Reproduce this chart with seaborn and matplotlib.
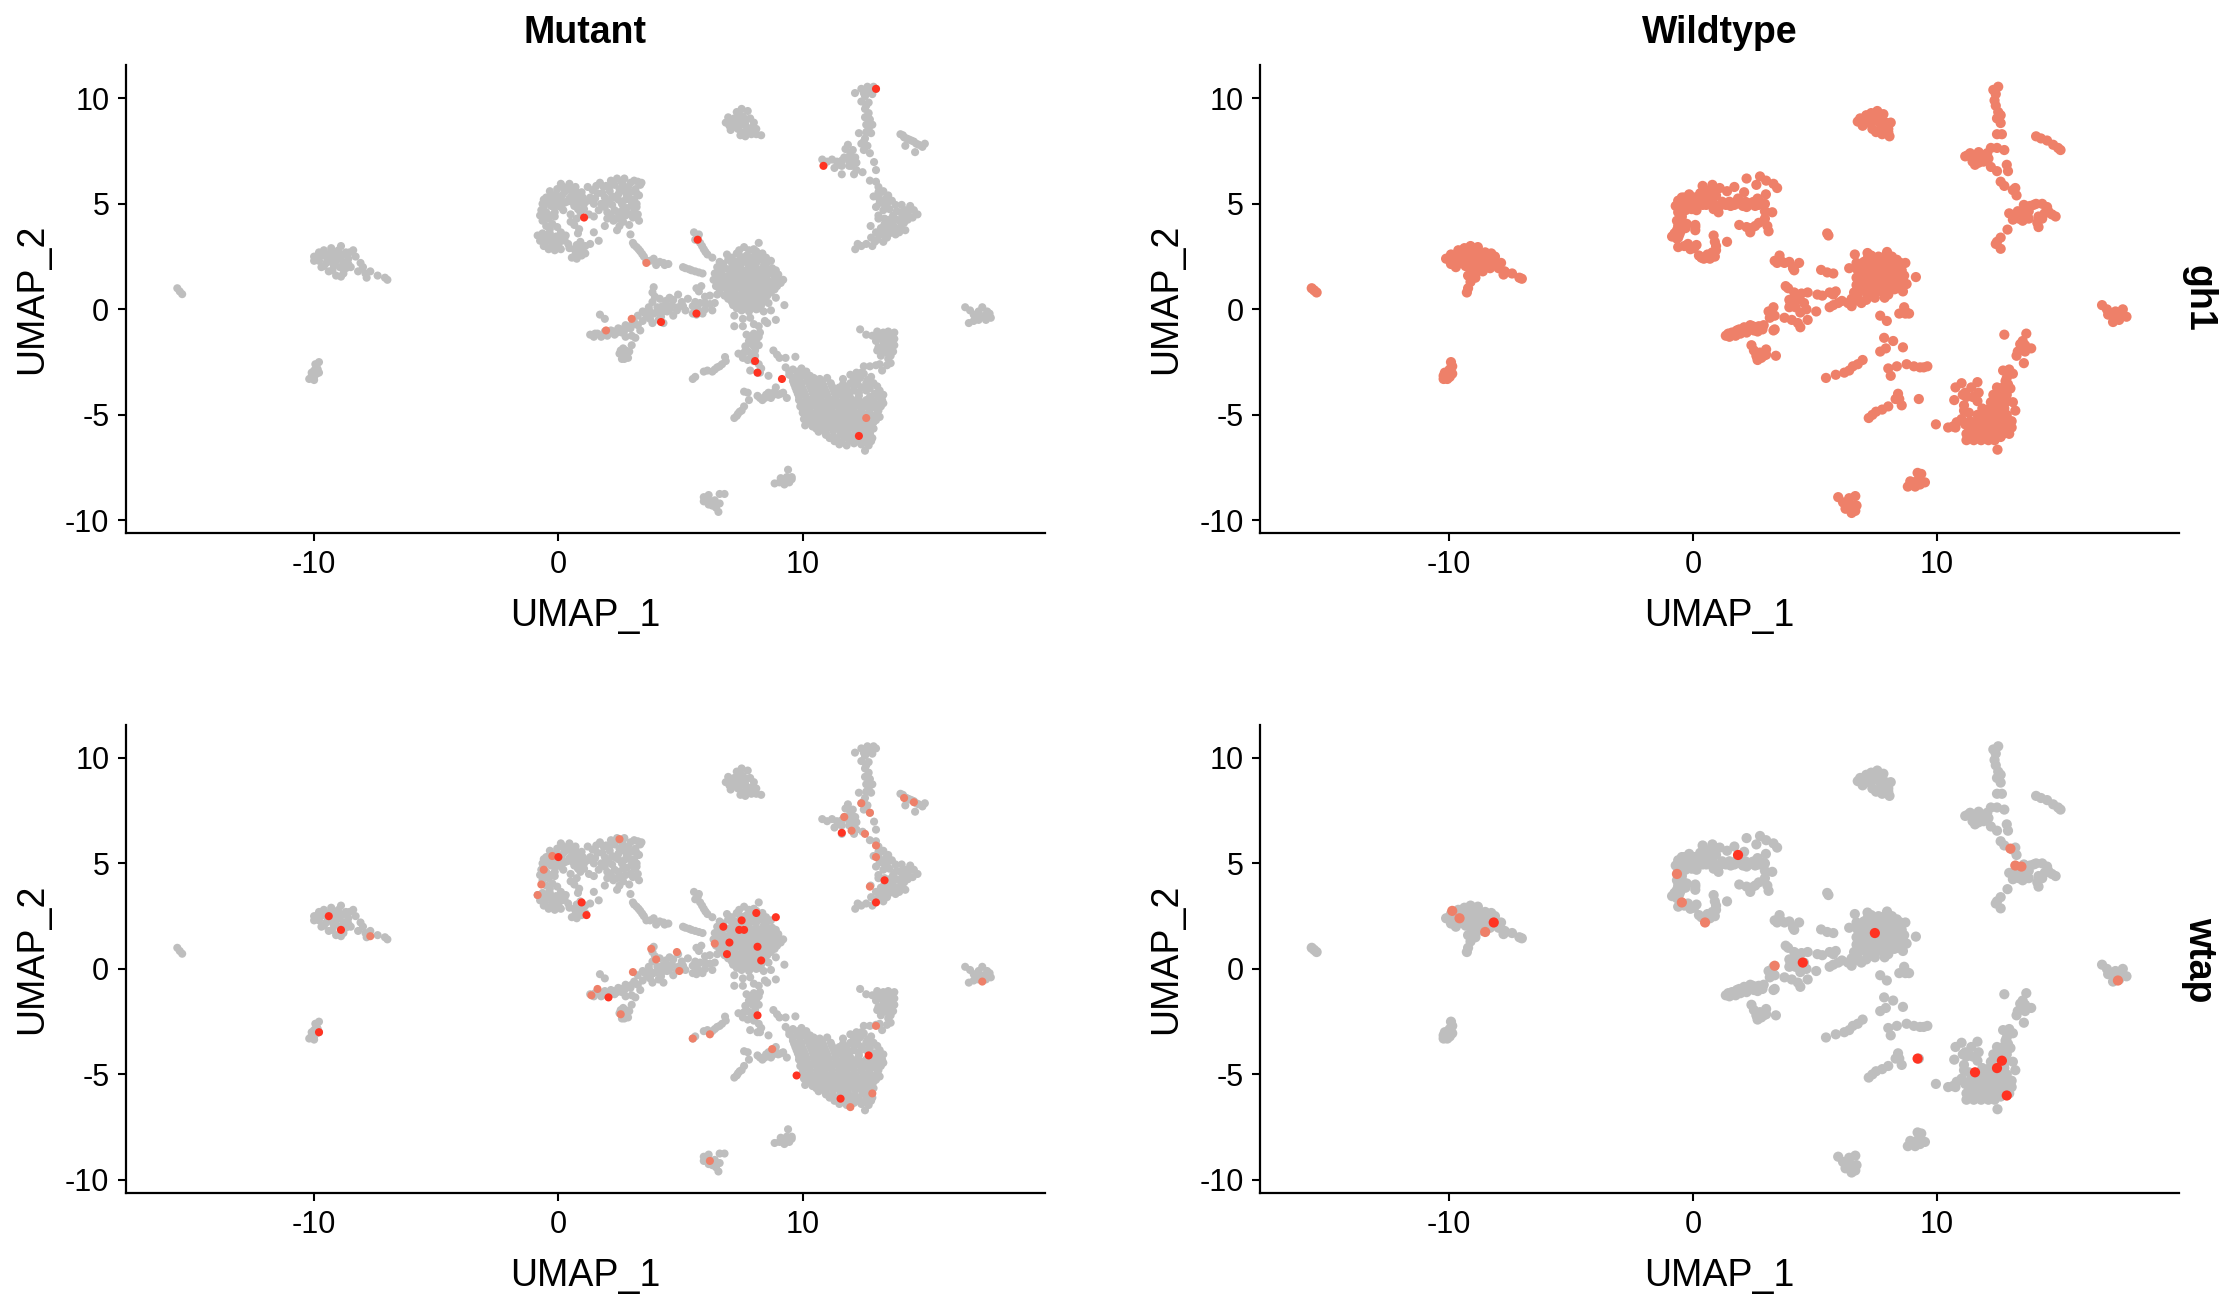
import pandas as pd
import seaborn as sns
import matplotlib.pyplot as plt

# cells, cluster by cluster (UMAP_1, UMAP_2)
mut_far = [(-15.6, 1.0), (-15.5, 0.85), (-15.4, 0.72)]
mut_left = [(-10.0, 2.5), (-10.0, 2.3), (-9.8, 2.7), (-9.8, 2.3), (-9.7, 2.0), (-9.6, 2.8), (-9.5, 2.5), (-9.5, 2.2),
            (-9.4, 1.8), (-9.3, 2.9), (-9.2, 2.5), (-9.2, 2.1), (-9.1, 1.6), (-9.0, 2.8), (-9.0, 2.4), (-8.9, 3.0),
            (-8.8, 2.2), (-8.8, 1.7), (-8.7, 2.7), (-8.6, 2.4), (-8.5, 2.0), (-8.4, 2.8), (-8.3, 2.5), (-8.2, 1.8),
            (-8.1, 2.2), (-7.9, 1.7), (-7.7, 1.8), (-7.4, 1.6), (-7.1, 1.5), (-7.0, 1.4), (-8.9, 1.55),
            (-9.9, 2.5), (-9.65, 2.55), (-9.35, 2.65), (-9.35, 2.3), (-9.1, 2.3), (-9.1, 2.65), (-8.85, 2.55), (-8.6, 2.15), (-8.55, 2.7),
            (-9.25, 1.85), (-8.7, 1.95), (-8.0, 2.0), (-7.85, 1.5), (-8.95, 2.0), (-9.6, 2.05)]
mut_low_left = [(-10.2, -3.3), (-10.1, -3.0), (-10.0, -3.2), (-10.0, -2.9), (-9.9, -2.7), (-9.8, -2.5), (-9.8, -3.0),
                (-10.1, -3.15), (-9.9, -3.05), (-9.85, -2.85), (-10.0, -3.35), (-9.95, -2.6)]
mut_ring = [(-0.85, 3.5), (-0.75, 3.25), (-0.65, 3.6), (-0.6, 3.0), (-0.5, 3.35), (-0.4, 2.85), (-0.35, 3.6),
            (-0.25, 3.15), (-0.15, 2.8), (-0.1, 3.45), (0.0, 3.0), (0.1, 3.65), (0.15, 3.25), (0.3, 3.5), (0.4, 3.1),
            (0.45, 2.9), (-0.65, 4.2), (-0.5, 3.95), (-0.4, 4.3), (-0.25, 4.05), (-0.15, 4.4), (-0.05, 3.9),
            (-0.7, 4.7), (-0.65, 5.0), (-0.5, 5.3), (-0.5, 4.6), (-0.35, 5.6), (-0.3, 4.9), (-0.2, 5.25), (-0.15, 4.6),
            (-0.05, 5.7), (0.0, 5.0), (0.1, 5.95), (0.15, 5.4), (0.2, 4.7), (0.35, 5.1), (0.35, 5.7), (0.45, 5.95),
            (0.5, 4.5), (0.55, 5.4), (0.65, 4.9), (0.7, 5.8), (0.8, 5.25), (0.9, 4.6), (0.95, 5.55), (1.05, 5.0),
            (1.2, 5.8), (1.25, 4.5), (1.3, 5.3), (1.45, 5.0), (1.45, 4.4), (0.5, 4.15), (0.65, 4.0), (0.85, 3.8),
            (0.75, 4.3), (0.8, 3.6), (0.55, 2.45), (0.75, 2.4), (0.95, 2.55), (1.1, 2.65), (0.9, 2.85), (0.75, 3.05),
            (0.9, 3.2), (1.1, 3.0), (1.3, 3.1), (1.65, 3.25), (1.65, 4.7), (1.75, 5.0), (1.8, 5.5), (1.7, 6.0),
            (2.0, 4.6), (2.05, 5.1), (2.1, 5.6), (2.15, 6.1), (2.25, 4.2), (2.3, 4.7), (2.3, 5.3), (2.4, 6.2),
            (2.5, 5.7), (2.5, 3.95), (2.55, 4.4), (2.6, 5.0), (2.7, 6.2), (2.8, 4.8), (2.8, 5.4), (2.85, 5.8),
            (2.9, 4.0), (2.95, 4.5), (3.1, 6.1), (3.1, 5.2), (3.15, 5.7), (3.25, 4.5), (3.3, 4.2), (3.3, 5.4),
            (3.35, 5.9), (3.4, 6.0), (1.45, 3.65), (1.9, 3.95), (2.4, 3.75), (2.95, 3.55)]
mut_ring_fill = [(-0.7, 3.4), (-0.55, 3.15), (-0.45, 3.55), (-0.2, 3.35), (-0.3, 2.95), (-0.05, 3.2), (0.1, 2.85), (0.25, 3.3),
                 (-0.55, 4.4), (-0.6, 4.85), (-0.35, 4.45), (-0.4, 5.1), (-0.35, 5.35), (-0.15, 4.85), (-0.1, 5.1), (-0.1, 5.45),
                 (0.1, 4.85), (0.1, 5.2), (0.25, 5.55), (0.2, 5.8), (0.45, 5.25), (0.5, 5.65), (0.55, 5.1), (0.75, 5.55),
                 (0.85, 5.05), (0.8, 4.75), (1.0, 5.3), (1.05, 4.75), (1.2, 5.15), (1.4, 5.65), (1.5, 5.25), (1.9, 5.3),
                 (1.9, 4.85), (1.95, 5.85), (2.2, 4.95), (2.3, 5.9), (2.45, 5.2), (2.45, 4.6), (2.6, 6.0), (2.7, 5.6),
                 (2.65, 4.15), (2.95, 5.55), (3.0, 4.95), (3.2, 4.85), (3.25, 6.05), (-0.75, 4.45), (-0.6, 5.2), (0.7, 2.6),
                 (0.65, 2.85), (1.0, 2.95), (2.0, 4.3), (-0.35, 3.8), (0.05, 3.45), (0.25, 5.05),
                 (2.15, 4.45), (2.2, 5.35), (2.45, 5.45), (2.65, 4.75), (2.75, 5.2), (2.95, 5.2), (3.1, 4.75), (3.05, 4.35), (2.75, 4.45),
                 (2.65, 5.85), (2.95, 6.0), (1.85, 5.8), (2.1, 5.85), (2.4, 4.3), (3.2, 5.5), (3.2, 5.0), (1.6, 5.5), (1.55, 5.85), (1.95, 5.05)]
mut_chain = [(3.05, 3.15), (3.2, 2.95), (3.35, 2.75), (3.5, 2.5), (3.6, 2.3), (3.75, 2.3), (3.9, 2.4), (4.0, 2.1),
             (4.15, 2.25), (4.35, 2.1), (4.5, 2.15), (4.3, 2.2), (5.1, 2.0), (5.35, 1.9), (5.6, 1.8), (5.9, 1.7),
             (5.2, 1.95), (5.45, 1.85), (5.75, 1.75), (3.1, 3.05), (3.28, 2.85), (3.43, 2.62),
             (5.55, 3.65), (5.7, 3.4), (5.6, 3.3), (5.75, 3.55), (5.8, 3.15), (5.95, 2.85), (6.1, 2.6), (6.3, 2.45),
             (5.88, 3.0), (6.02, 2.72)]
mut_blob = [(7.6, 2.95), (8.0, 2.85), (8.2, 3.15), (6.9, 2.6), (7.3, 2.65), (7.7, 2.55), (8.05, 2.6), (8.35, 2.65),
            (6.6, 2.25), (6.95, 2.35), (7.3, 2.25), (7.6, 2.3), (7.95, 2.25), (8.3, 2.35), (8.7, 2.3),
            (6.5, 2.0), (6.8, 1.95), (7.15, 2.05), (7.45, 1.95), (7.8, 2.0), (8.1, 1.95), (8.4, 2.05), (8.75, 1.95),
            (6.4, 1.7), (6.7, 1.65), (7.05, 1.75), (7.35, 1.65), (7.7, 1.7), (8.05, 1.65), (8.35, 1.75), (8.7, 1.7), (9.0, 1.65),
            (6.35, 1.4), (6.65, 1.35), (7.0, 1.45), (7.3, 1.35), (7.65, 1.4), (7.95, 1.35), (8.3, 1.45), (8.6, 1.35), (8.95, 1.4), (9.2, 1.4),
            (6.45, 1.1), (6.75, 1.05), (7.1, 1.15), (7.4, 1.05), (7.7, 1.1), (8.0, 1.05), (8.35, 1.15), (8.65, 1.05), (8.95, 1.1),
            (6.6, 0.8), (6.9, 0.75), (7.2, 0.85), (7.5, 0.75), (7.8, 0.8), (8.1, 0.75), (8.4, 0.85), (8.7, 0.8),
            (6.95, 0.5), (7.25, 0.45), (7.55, 0.55), (7.85, 0.45), (8.15, 0.5), (8.45, 0.45), (8.9, 0.55),
            (7.15, 0.2), (7.45, 0.15), (7.75, 0.25), (8.05, 0.15), (8.3, 0.2), (7.5, -0.05), (7.8, -0.1), (8.1, -0.0),
            (8.4, -0.1), (8.7, -0.05), (9.25, 0.2)]
mut_blob_fill = [(7.4, 2.8), (7.8, 2.8), (8.1, 2.75), (7.1, 2.45), (7.45, 2.5), (7.85, 2.45), (8.15, 2.45), (8.5, 2.45),
                 (6.75, 2.15), (7.1, 2.2), (7.45, 2.15), (7.75, 2.15), (8.1, 2.2), (8.5, 2.15), (6.6, 1.85), (6.95, 1.9),
                 (7.25, 1.85), (7.55, 1.85), (7.9, 1.85), (8.2, 1.85), (8.55, 1.85), (8.9, 1.85), (6.5, 1.55), (6.85, 1.55),
                 (7.2, 1.55), (7.5, 1.55), (7.85, 1.55), (8.2, 1.55), (8.5, 1.55), (8.85, 1.55), (6.55, 1.25), (6.85, 1.25),
                 (7.15, 1.3), (7.5, 1.25), (7.8, 1.25), (8.15, 1.25), (8.45, 1.25), (8.8, 1.25), (9.1, 1.25), (6.6, 0.95),
                 (6.95, 0.95), (7.25, 1.0), (7.55, 0.95), (7.85, 0.95), (8.2, 0.95), (8.5, 0.95), (8.85, 0.95), (6.8, 0.65),
                 (7.05, 0.65), (7.35, 0.65), (7.65, 0.65), (7.95, 0.65), (8.25, 0.65), (8.55, 0.65), (7.1, 0.35), (7.4, 0.35),
                 (7.7, 0.35), (8.0, 0.35), (8.3, 0.35), (8.6, 0.3), (7.3, 0.05), (7.6, 0.05), (7.9, 0.05), (8.2, 0.05)]
mut_wing = [(1.3, -1.2), (1.45, -1.3), (1.6, -1.15), (1.75, -1.3), (1.9, -1.05), (2.0, -1.25), (2.15, -1.0), (2.3, -1.2),
            (2.45, -0.9), (2.6, -1.1), (2.75, -0.75), (2.95, -0.9), (3.1, -0.6), (3.25, -0.75), (1.7, -0.25), (1.9, -0.45),
            (3.0, -1.25), (2.75, -1.3), (3.15, -1.35), (3.35, -1.0), (2.65, -1.85), (2.5, -2.1), (2.7, -2.2), (2.9, -2.0),
            (2.6, -2.35), (2.85, -2.3), (3.0, -1.7), (3.25, -0.3), (3.45, -0.1), (3.45, -0.55), (3.65, -0.35), (3.7, 0.1),
            (3.85, 0.35), (3.9, -0.2), (3.85, -0.65), (4.05, 0.1), (4.15, 0.5), (4.2, -0.35), (4.3, -0.65), (4.4, 0.15),
            (4.45, -0.1), (4.55, 0.55), (4.65, 0.2), (4.7, -0.3), (4.9, 0.1), (4.9, 0.7), (5.05, 0.35), (5.2, -0.05),
            (5.3, 0.5), (3.9, 1.05), (3.85, 0.8), (5.5, 0.15), (5.7, 0.0), (5.5, -0.2), (5.65, -0.25), (5.9, -0.2),
            (5.6, 0.35), (5.8, 0.3), (6.0, 0.3), (6.2, 0.25), (6.4, 0.3), (6.0, 0.0), (6.3, -0.05), (5.65, 1.0),
            (5.85, 1.1), (5.75, 0.85), (6.2, 0.65), (6.0, 0.6), (6.5, 0.7),
            (1.5, -1.15), (1.85, -1.2), (2.25, -1.05), (2.55, -0.95), (2.85, -0.85), (3.0, -0.75), (2.7, -1.0), (2.4, -1.1),
            (3.55, -0.2), (3.75, -0.1), (3.75, -0.45), (4.05, -0.15), (4.1, -0.5), (4.25, 0.15), (4.3, -0.1), (4.55, 0.0),
            (3.95, 0.6), (4.4, 0.4), (4.7, 0.45), (4.85, -0.05), (5.1, 0.15), (2.55, -1.95), (2.75, -1.95), (2.7, -2.35)]
mut_stem = [(7.2, -0.3), (7.2, -0.8), (7.55, -0.45), (7.55, -0.8), (7.85, -0.4), (8.0, -0.7), (8.2, -0.8), (8.45, -0.55),
            (8.9, -0.5), (8.55, -0.65), (7.7, -1.2), (8.0, -1.15), (8.25, -1.1), (7.8, -1.5), (8.1, -1.45), (7.65, -1.75),
            (8.2, -1.7), (7.75, -2.0), (8.05, -1.95), (8.2, -1.3), (7.37, -2.1), (7.55, -2.3), (7.75, -2.4), (8.0, -2.45),
            (8.2, -2.6), (8.15, -3.0), (7.85, -2.9), (8.3, -2.8), (8.25, -3.0), (8.6, -3.15), (5.5, -3.3), (5.6, -3.2),
            (5.95, -2.95), (6.3, -2.95), (6.5, -2.75), (6.7, -2.6), (6.85, -2.45), (6.82, -2.26), (6.1, -2.9),
            (7.2, -5.15), (7.35, -4.95), (7.5, -4.8), (7.6, -4.6), (7.8, -4.3), (7.75, -3.95), (7.6, -3.9),
            (8.15, -4.1), (8.35, -4.3), (8.5, -4.05), (8.7, -4.2), (8.85, -3.9), (9.0, -4.05), (9.2, -3.95), (8.9, -3.7),
            (8.6, -3.95), (9.35, -4.2), (7.9, -1.3), (7.95, -1.7), (7.9, -2.15), (8.05, -2.2), (7.6, -2.05), (6.4, -2.85),
            (6.6, -2.7), (7.3, -5.05), (7.42, -4.85), (8.25, -4.2), (8.45, -4.2), (8.8, -4.05), (9.1, -4.0)]
mut_lower = [(8.8, -1.95), (8.95, -2.15), (9.05, -2.3), (9.3, -2.3), (9.7, -2.25), (9.3, -2.75), (9.6, -2.85), (9.95, -2.8),
             (9.45, -3.1), (9.75, -3.15), (10.05, -3.05), (10.3, -3.15), (9.6, -3.4), (9.9, -3.45), (10.2, -3.35), (10.5, -3.4),
             (10.8, -3.45), (11.0, -3.25), (11.65, -3.3), (11.95, -3.1), (12.2, -3.0), (12.5, -3.05), (12.8, -3.2),
             (9.7, -3.7), (10.0, -3.75), (10.3, -3.65), (10.6, -3.7), (10.9, -3.75), (11.2, -3.65), (11.5, -3.7), (11.8, -3.75),
             (12.1, -3.65), (12.4, -3.7), (12.75, -3.75), (13.05, -3.65), (9.8, -4.0), (10.1, -4.05), (10.4, -3.95), (10.7, -4.0),
             (11.0, -4.05), (11.3, -3.95), (11.6, -4.0), (11.9, -4.05), (12.3, -3.95), (12.95, -4.0), (13.3, -4.05),
             (9.85, -4.3), (10.15, -4.35), (10.45, -4.25), (10.75, -4.3), (11.05, -4.35), (11.35, -4.25), (11.7, -4.3), (12.0, -4.35),
             (12.25, -4.25), (12.6, -4.3), (12.9, -4.35), (13.25, -4.3), (9.9, -4.6), (10.2, -4.65), (10.5, -4.55), (10.8, -4.6),
             (11.1, -4.65), (11.4, -4.55), (11.7, -4.6), (12.0, -4.65), (12.3, -4.55), (12.6, -4.6), (12.9, -4.65), (13.2, -4.6),
             (10.0, -4.9), (10.3, -4.95), (10.6, -4.85), (10.9, -4.9), (11.2, -4.95), (11.5, -4.85), (11.8, -4.9), (12.1, -4.95),
             (12.4, -4.85), (12.7, -4.9), (13.05, -4.95), (10.05, -5.2), (10.35, -5.25), (10.65, -5.15), (10.95, -5.2), (11.25, -5.25),
             (11.55, -5.15), (11.85, -5.2), (12.15, -5.25), (12.45, -5.15), (12.75, -5.2), (13.0, -5.25), (10.1, -5.5), (10.4, -5.55),
             (10.7, -5.45), (11.0, -5.5), (11.3, -5.55), (11.6, -5.45), (11.9, -5.5), (12.2, -5.55), (12.5, -5.45), (12.8, -5.5),
             (10.65, -5.8), (10.95, -5.85), (11.25, -5.75), (11.55, -5.8), (11.85, -5.85), (12.15, -5.75), (12.45, -5.8), (12.75, -5.85),
             (11.1, -6.1), (11.4, -6.15), (11.7, -6.05), (12.0, -6.1), (12.3, -6.15), (12.6, -6.05), (12.85, -6.1),
             (11.5, -6.4), (11.8, -6.45), (12.1, -6.35), (12.4, -6.4), (12.7, -6.45), (12.55, -6.7)]
mut_lower_fill = [(9.45, -2.95), (9.8, -2.95), (10.15, -2.95), (9.6, -3.25), (9.9, -3.25), (10.2, -3.2), (10.45, -3.25), (10.7, -3.3),
                  (12.1, -3.3), (12.35, -3.25), (12.65, -3.35), (9.65, -3.55), (9.95, -3.55), (10.25, -3.5), (10.55, -3.55), (10.85, -3.6),
                  (11.15, -3.5), (11.65, -3.55), (11.95, -3.5), (12.25, -3.55), (12.6, -3.5), (12.9, -3.5), (9.75, -3.85), (10.05, -3.9),
                  (10.35, -3.8), (10.65, -3.85), (10.95, -3.9), (11.25, -3.8), (11.55, -3.85), (11.85, -3.9), (12.1, -3.85), (12.6, -3.85),
                  (13.15, -3.85), (9.85, -4.15), (10.15, -4.2), (10.45, -4.1), (10.75, -4.15), (11.05, -4.2), (11.35, -4.1), (11.65, -4.15),
                  (11.95, -4.2), (12.3, -4.1), (12.75, -4.15), (13.1, -4.15), (9.95, -4.45), (10.25, -4.5), (10.55, -4.4), (10.85, -4.45),
                  (11.15, -4.5), (11.45, -4.4), (11.75, -4.45), (12.05, -4.5), (12.4, -4.4), (12.75, -4.45), (13.05, -4.5), (13.3, -4.45),
                  (10.0, -4.75), (10.3, -4.8), (10.6, -4.7), (10.9, -4.75), (11.2, -4.8), (11.5, -4.7), (11.8, -4.75), (12.1, -4.8),
                  (12.4, -4.7), (12.75, -4.75), (13.1, -4.8), (10.1, -5.05), (10.4, -5.1), (10.7, -5.0), (11.0, -5.05), (11.3, -5.1),
                  (11.6, -5.0), (11.9, -5.05), (12.2, -5.1), (12.55, -5.0), (12.9, -5.05), (13.15, -5.1), (10.2, -5.35), (10.5, -5.4),
                  (10.8, -5.3), (11.1, -5.35), (11.4, -5.4), (11.7, -5.3), (12.0, -5.35), (12.3, -5.4), (12.6, -5.3), (12.9, -5.35),
                  (10.55, -5.65), (10.85, -5.7), (11.15, -5.6), (11.45, -5.65), (11.75, -5.7), (12.05, -5.6), (12.35, -5.65), (12.65, -5.7),
                  (12.9, -5.65), (10.95, -5.95), (11.25, -6.0), (11.55, -5.9), (11.85, -5.95), (12.15, -6.0), (12.45, -5.9), (12.75, -5.95),
                  (11.3, -6.25), (11.6, -6.3), (11.9, -6.2), (12.25, -6.25), (12.55, -6.3), (12.8, -6.25)]
mut_lower_ext = [(12.35, -0.95), (12.6, -1.2), (12.85, -1.25), (13.05, -1.05), (13.3, -1.1), (13.5, -1.05), (13.75, -1.1),
                 (13.75, -1.4), (13.5, -1.4), (13.25, -1.4), (13.0, -1.5), (13.1, -1.8), (13.4, -1.7), (13.75, -1.7),
                 (13.05, -1.95), (13.7, -2.0), (13.45, -2.05), (13.2, -2.2), (13.5, -2.35), (13.45, -2.65), (13.6, -2.55),
                 (13.25, -2.9), (13.15, -2.6), (12.5, -2.7), (12.75, -2.7), (13.0, -2.65), (12.4, -3.0),
                 (13.15, -1.25), (13.4, -1.25), (13.6, -1.25), (13.6, -1.55), (13.3, -1.55), (13.55, -1.85), (13.3, -1.9), (13.6, -2.2)]
mut_top_right = [(12.14, 10.25), (12.4, 10.45), (12.65, 10.55), (12.9, 10.55), (13.0, 10.45), (12.85, 10.2), (12.55, 10.1),
                 (12.4, 9.85), (12.7, 9.8), (12.55, 9.5), (12.7, 9.3), (12.55, 9.1), (12.75, 9.0), (12.6, 8.75), (12.85, 8.75),
                 (12.6, 8.4), (12.8, 8.35), (12.3, 8.35), (12.55, 8.1), (12.4, 7.85), (12.65, 7.75), (12.5, 7.55), (12.75, 7.4),
                 (12.92, 6.98), (13.0, 6.6), (10.8, 7.1), (11.0, 7.0), (11.2, 7.1), (11.4, 7.0), (11.3, 6.7), (11.6, 6.8),
                 (11.7, 7.2), (11.9, 7.0), (11.75, 7.6), (11.95, 7.4), (11.85, 7.8), (12.05, 7.55), (12.15, 7.2), (12.0, 6.8),
                 (12.2, 6.6), (12.1, 6.4), (12.45, 6.5), (11.6, 6.4), (12.2, 6.95), (14.0, 8.3), (14.15, 8.15), (14.35, 8.05),
                 (14.55, 7.95), (14.75, 7.8), (14.9, 7.7), (14.6, 7.45), (14.2, 7.75), (15.0, 7.85),
                 (12.5, 10.25), (12.7, 10.3), (12.6, 9.65), (12.65, 9.15), (12.7, 8.55), (12.5, 7.95), (11.5, 6.85), (11.6, 7.05),
                 (11.85, 7.2), (11.9, 6.8), (12.05, 7.0), (14.25, 8.1), (14.45, 8.0), (14.65, 7.85), (14.1, 8.25)]
mut_arc = [(12.75, 6.1), (13.0, 6.05), (13.1, 5.8), (13.3, 5.6), (13.5, 5.4), (13.65, 5.15), (13.8, 4.95), (12.9, 5.35),
           (13.1, 5.3), (13.25, 5.05), (13.45, 5.0), (13.0, 4.85), (13.3, 4.7), (13.55, 4.75), (13.85, 4.65), (14.05, 4.95),
           (14.2, 4.7), (14.4, 4.9), (14.55, 4.7), (14.7, 4.5), (14.5, 4.35), (14.3, 4.25), (14.1, 4.4), (13.85, 4.25),
           (13.55, 4.25), (13.35, 4.3), (13.1, 4.45), (13.5, 3.95), (13.75, 3.9), (14.0, 3.9), (14.2, 3.75), (13.2, 3.85),
           (13.0, 3.65), (13.25, 3.55), (13.55, 3.6), (13.8, 3.55), (12.8, 3.4), (13.05, 3.3), (13.3, 3.2), (12.6, 3.1),
           (12.4, 3.0), (12.15, 2.85), (12.25, 3.1), (12.85, 3.0), (12.78, 3.95), (13.1, 4.3),
           (13.2, 5.55), (13.4, 5.25), (13.15, 5.05), (13.4, 4.85), (13.7, 4.45), (14.0, 4.6), (14.3, 4.55), (13.95, 4.2),
           (14.15, 4.1), (13.65, 4.1), (13.35, 4.05), (13.4, 3.75), (13.7, 3.7), (13.95, 3.65), (13.15, 3.55), (13.45, 3.4),
           (14.35, 4.7), (13.1, 5.55), (13.35, 3.9), (12.95, 3.2)]
mut_edges = [(16.65, 0.1), (16.85, -0.05), (17.0, -0.25), (17.2, -0.1), (17.35, 0.1), (17.55, -0.1), (17.7, -0.4), (17.5, -0.5),
             (17.2, -0.5), (17.0, -0.55), (16.8, -0.65), (17.45, -0.3), (17.65, -0.2), (17.25, -0.3), (6.85, 8.85), (6.95, 9.1), (7.1, 8.75),
             (7.05, 8.5), (7.2, 9.05), (7.3, 9.35), (7.4, 8.9), (7.35, 8.55), (7.5, 9.5), (7.55, 9.15), (7.65, 8.75), (7.6, 8.4),
             (7.75, 9.4), (7.85, 9.05), (7.9, 8.6), (7.9, 8.3), (8.1, 8.3), (8.3, 8.25), (8.0, 8.85), (7.45, 8.25), (8.1, 8.55),
             (7.15, 8.95), (7.25, 8.65), (7.5, 8.75), (7.7, 9.0), (7.4, 9.2), (7.75, 8.55), (7.95, 8.45), (7.65, 8.2), (7.0, 8.7),
             (8.85, -8.25), (9.05, -8.2), (9.25, -8.3), (9.45, -8.2), (9.55, -7.95), (9.35, -7.95), (9.4, -7.6), (9.55, -8.05),
             (9.1, -8.0), (9.15, -8.15), (9.35, -8.15), (5.95, -8.9), (5.95, -9.1), (6.15, -8.8), (6.2, -9.1), (6.3, -9.3), (6.45, -9.4), (6.55, -9.6),
             (6.6, -9.2), (6.6, -8.75), (6.8, -8.75), (6.4, -9.05), (6.15, -9.25), (6.1, -8.95), (6.45, -9.2)]

wt_far = [(-15.6, 1.0), (-15.4, 0.8), (-15.5, 0.9)]
wt_left = [(-10.1, 2.4), (-9.9, 2.15), (-9.9, 2.6), (-9.7, 2.0), (-9.65, 2.4), (-9.6, 2.8), (-9.35, 2.9), (-9.3, 2.45),
           (-9.3, 2.05), (-9.1, 3.0), (-9.0, 2.6), (-9.0, 2.2), (-8.8, 2.95), (-8.75, 2.5), (-8.7, 2.15), (-8.5, 2.7),
           (-8.4, 2.3), (-8.1, 2.5), (-8.05, 2.15), (-7.85, 2.2), (-7.7, 1.8), (-7.75, 1.65), (-7.4, 1.7), (-7.1, 1.5),
           (-7.0, 1.45), (-8.9, 1.7), (-8.9, 1.5), (-9.2, 1.6), (-8.6, 1.8), (-9.1, 1.3), (-9.2, 1.0), (-9.25, 0.8), (-9.5, 2.6),
           (-9.85, 2.35), (-9.5, 2.2), (-9.4, 2.7), (-9.15, 2.25), (-9.15, 2.75), (-8.9, 2.4), (-8.85, 2.7), (-8.9, 2.05), (-8.6, 2.45),
           (-8.25, 2.65), (-8.25, 2.2), (-8.55, 2.05), (-8.3, 1.95), (-9.05, 1.85), (-8.75, 1.9), (-7.95, 1.95)]
wt_low_left = [(-10.2, -3.3), (-10.0, -3.1), (-10.15, -3.0), (-9.95, -2.85), (-9.9, -2.5), (-9.85, -2.7), (-10.05, -3.3), (-9.85, -3.05),
               (-10.2, -3.15), (-10.0, -2.95), (-9.95, -3.2)]
wt_ring = [(-0.7, 4.9), (-0.5, 5.0), (-0.45, 5.3), (-0.3, 4.7), (-0.25, 5.1), (-0.15, 5.45), (0.0, 4.95), (0.05, 5.3),
           (0.15, 4.7), (0.25, 5.1), (0.3, 5.5), (0.4, 5.85), (0.55, 4.95), (0.6, 5.3), (0.75, 5.7), (0.8, 5.9), (0.85, 5.0),
           (0.95, 5.4), (1.1, 4.9), (1.2, 5.1), (1.1, 5.75), (1.05, 4.6), (-0.6, 4.6), (-0.65, 4.2), (-0.45, 4.05), (-0.6, 3.95),
           (-0.45, 4.4), (-0.75, 3.6), (-0.5, 3.7), (-0.6, 3.4), (-0.85, 3.45), (-0.3, 3.85), (-0.25, 4.05), (0.1, 4.0), (0.1, 3.75),
           (-0.65, 3.35), (-0.6, 2.95), (-0.35, 3.0), (-0.2, 3.1), (-0.1, 2.85), (0.05, 2.9), (0.15, 3.05), (0.25, 2.55),
           (0.45, 2.4), (0.7, 2.4), (0.9, 2.5), (0.95, 2.8), (0.8, 2.7), (0.6, 2.6), (0.85, 3.5), (0.9, 3.2), (0.95, 3.0), (1.4, 3.2),
           (1.35, 4.95), (1.5, 5.1), (1.7, 4.95), (1.85, 5.25), (1.95, 5.0), (2.15, 5.1), (2.2, 4.85), (2.4, 5.05), (2.55, 4.9),
           (2.65, 5.25), (2.8, 5.05), (2.95, 5.0), (1.4, 5.6), (1.7, 5.8), (2.1, 5.55), (2.2, 6.2), (2.6, 5.9), (2.75, 6.3), (3.0, 6.1),
           (3.3, 5.95), (3.45, 5.75), (2.99, 5.45), (1.9, 4.0), (2.2, 3.9), (2.35, 3.65), (2.4, 3.85), (2.55, 3.95), (2.7, 4.1),
           (2.95, 4.3), (3.25, 4.6), (2.95, 4.65), (3.05, 3.95), (3.1, 3.7),
           (-0.6, 5.15), (-0.35, 4.95), (-0.35, 5.3), (-0.1, 5.2), (-0.05, 4.75), (0.15, 5.3), (0.4, 4.95), (0.45, 5.25), (0.45, 5.6),
           (0.7, 5.15), (0.6, 5.55), (0.95, 5.7), (0.85, 4.75), (-0.55, 3.55), (-0.65, 3.75), (-0.45, 4.2), (0.1, 3.9), (0.35, 2.45),
           (0.55, 2.45), (0.8, 2.5), (1.55, 4.9), (1.8, 5.05), (2.05, 4.9), (2.3, 4.95), (2.5, 5.1), (2.7, 4.95)]
wt_chain = [(5.5, 3.6), (5.55, 3.5), (3.35, 2.3), (3.55, 2.55), (3.6, 2.3), (3.75, 2.2), (3.95, 2.25), (4.35, 2.2), (4.1, 1.95),
            (4.15, 1.85), (5.25, 1.87), (5.5, 1.75), (5.75, 1.7), (3.45, 2.2)]
wt_wing = [(3.8, 1.1), (3.9, 1.0), (4.15, 0.8), (4.45, 0.75), (4.7, 0.8), (5.1, 0.7), (5.3, 0.65), (5.6, 0.8), (5.85, 0.85), (5.75, 0.7),
           (3.95, 0.45), (4.15, 0.35), (4.3, 0.5), (4.2, 0.1), (3.95, 0.1), (4.55, 0.3), (4.65, 0.0), (4.4, -0.15), (3.1, -0.1),
           (3.15, -0.4), (3.3, 0.1), (3.35, -0.3), (3.75, -0.4), (4.05, -0.5), (4.3, -0.65), (4.4, -0.85), (4.7, -0.5), (5.05, -0.1),
           (3.35, -0.95), (5.6, 0.1), (5.75, 0.2), (5.95, 0.3), (6.1, 0.4), (1.35, -1.25), (1.5, -1.3), (1.6, -1.1), (1.75, -1.25),
           (1.8, -1.0), (1.95, -1.15), (2.1, -0.85), (2.2, -1.1), (2.35, -0.75), (2.5, -1.0), (2.7, -0.8), (2.85, -0.95), (2.9, -0.75),
           (2.65, -1.05), (3.3, -1.0), (2.4, -1.7), (2.5, -1.95), (2.6, -2.2), (2.65, -2.4), (2.8, -2.3), (3.0, -2.15), (3.0, -1.9),
           (2.75, -2.05), (3.4, -2.2), (1.45, -1.15), (1.7, -1.1), (1.9, -0.95), (2.05, -1.0), (2.3, -0.9), (2.45, -0.8), (2.6, -0.85),
           (2.8, -0.85), (2.65, -2.3), (2.9, -2.2), (4.0, 0.25), (3.2, -0.2)]
wt_blob = [(6.63, 2.6), (7.15, 2.67), (7.95, 2.72), (7.3, 2.55), (7.6, 2.5), (7.9, 2.55), (8.15, 2.5), (6.7, 2.2), (7.0, 2.25), (7.3, 2.15),
           (7.6, 2.2), (7.9, 2.25), (8.2, 2.15), (8.5, 2.2), (8.7, 2.2), (6.4, 1.95), (6.75, 1.85), (7.05, 1.9), (7.35, 1.8), (7.65, 1.85),
           (7.95, 1.9), (8.25, 1.8), (8.55, 1.85), (6.7, 1.5), (7.0, 1.55), (7.3, 1.45), (7.6, 1.5), (7.9, 1.55), (8.2, 1.45), (8.5, 1.5),
           (9.13, 1.53), (6.7, 1.15), (7.0, 1.2), (7.3, 1.1), (7.6, 1.15), (7.9, 1.2), (8.2, 1.1), (8.5, 1.15), (8.75, 1.2), (6.6, 0.8),
           (6.85, 0.85), (7.15, 0.75), (7.45, 0.8), (7.7, 0.85), (8.25, 0.95), (8.5, 1.0), (8.6, 0.85), (6.5, 0.5), (6.75, 0.55), (7.1, 0.45),
           (7.45, 0.55), (7.85, 0.55), (6.35, 0.3), (6.55, 0.35), (6.5, 0.15), (6.9, 0.3), (8.0, 0.7), (8.4, 1.3),
           (7.15, 2.4), (7.45, 2.35), (7.75, 2.4), (8.05, 2.35), (8.35, 2.35), (6.85, 2.05), (7.2, 2.0), (7.5, 2.0), (7.8, 2.05), (8.1, 2.0),
           (8.4, 2.0), (6.85, 1.7), (7.15, 1.7), (7.5, 1.65), (7.8, 1.7), (8.1, 1.65), (8.4, 1.65), (8.65, 1.6), (6.85, 1.35), (7.15, 1.35),
           (7.45, 1.3), (7.75, 1.35), (8.05, 1.3), (8.35, 1.3), (8.6, 1.35), (6.85, 1.0), (7.15, 0.95), (7.45, 1.0), (7.75, 1.0), (8.05, 0.9), (8.35, 1.0)]
wt_stem = [(7.67, -0.3), (7.94, -0.55), (8.45, -0.2), (8.65, 0.1), (8.7, -0.2), (8.85, -0.2), (8.75, -0.15), (7.83, -1.35), (8.2, -1.5),
           (8.6, -1.8), (7.9, -1.85), (7.67, -2.0), (5.45, -3.25), (5.85, -3.1), (6.2, -3.0), (6.4, -2.9), (6.55, -2.7), (6.75, -2.6),
           (6.95, -2.4), (8.0, -2.8), (8.1, -3.15), (8.35, -2.7), (8.75, -2.6), (9.05, -2.7), (9.3, -2.75), (9.45, -2.75), (9.6, -2.7),
           (7.2, -5.15), (7.35, -5.0), (7.5, -4.85), (7.75, -4.75), (8.0, -4.6), (8.3, -4.25), (8.45, -4.25), (8.55, -4.55), (8.4, -4.0),
           (9.25, -4.25), (9.95, -5.45)]
wt_lower = [(12.45, -3.7), (12.7, -3.7), (12.3, -4.05), (12.6, -4.05), (12.85, -4.05), (12.2, -4.4), (12.5, -4.4), (12.8, -4.4), (13.1, -4.4),
            (11.85, -4.7), (12.15, -4.7), (12.45, -4.7), (12.75, -4.7), (13.2, -4.8), (11.65, -5.0), (11.95, -5.0), (12.25, -5.0), (12.55, -5.0),
            (12.85, -5.0), (11.35, -5.3), (11.65, -5.3), (11.95, -5.3), (12.25, -5.3), (12.55, -5.3), (12.85, -5.3), (13.05, -5.3),
            (11.3, -5.6), (11.6, -5.6), (11.9, -5.6), (12.2, -5.6), (12.5, -5.6), (12.8, -5.6), (13.05, -5.6), (11.2, -5.9), (11.5, -5.9),
            (11.8, -5.9), (12.1, -5.9), (12.4, -5.9), (12.7, -5.9), (12.95, -5.9), (11.2, -6.2), (11.5, -6.2), (11.8, -6.2), (12.1, -6.2),
            (12.35, -6.2), (12.6, -6.05), (12.47, -6.65), (10.45, -5.6), (10.65, -5.55), (10.8, -5.35), (11.0, -5.2), (11.15, -5.45),
            (10.75, -5.6), (10.75, -3.7), (11.0, -3.5), (11.15, -3.95), (11.4, -3.7), (11.65, -3.45), (11.05, -4.05), (11.2, -4.15),
            (10.7, -4.3), (11.1, -4.55), (11.45, -4.15), (11.7, -3.95), (11.65, -4.35), (11.1, -4.8), (11.3, -4.9), (12.7, -2.9),
            (12.95, -2.85), (13.1, -3.05), (12.8, -3.4), (13.0, -3.75), (12.85, -3.25), (13.55, -2.55), (12.75, -1.2), (13.65, -1.15),
            (13.5, -1.5), (13.4, -1.65), (13.3, -2.0), (13.6, -2.0), (13.85, -1.85), (13.25, -2.2), (13.6, -1.7), (12.9, -3.55)]
wt_top_right = [(12.3, 10.4), (12.5, 10.55), (12.4, 10.2), (12.35, 9.9), (12.4, 9.65), (12.5, 9.35), (12.6, 9.2), (12.45, 9.05), (12.6, 8.83),
                (12.45, 8.3), (12.65, 8.3), (11.15, 7.25), (11.35, 7.4), (11.5, 7.2), (11.7, 7.45), (11.85, 7.3), (12.05, 7.4), (11.55, 6.85),
                (11.7, 6.95), (11.9, 7.0), (12.1, 7.15), (11.45, 7.0), (12.2, 7.65), (12.45, 7.65), (12.75, 7.55), (12.2, 6.75), (12.45, 6.55),
                (12.85, 6.85), (12.9, 6.55), (12.6, 6.05), (12.75, 5.85), (13.1, 5.65), (13.25, 5.4), (13.2, 5.75), (12.95, 4.55), (13.1, 4.25),
                (13.35, 4.3), (13.3, 4.65), (13.55, 4.95), (13.6, 4.6), (13.8, 4.9), (13.95, 4.95), (13.75, 4.3), (13.5, 4.2), (14.05, 5.0),
                (14.3, 5.0), (14.5, 4.85), (14.7, 4.5), (14.85, 4.4), (14.15, 4.4), (14.3, 4.3), (14.15, 3.9), (14.1, 4.1), (12.88, 3.78),
                (12.6, 3.4), (12.45, 3.2), (12.4, 3.1), (12.6, 2.87), (14.05, 8.2), (14.25, 8.1), (14.5, 8.0), (14.75, 7.8), (14.95, 7.65), (15.05, 7.55),
                (13.2, 4.45), (13.4, 4.5), (13.6, 4.4), (13.75, 4.65), (14.4, 4.55), (14.55, 4.65), (11.6, 7.3), (11.25, 7.3), (11.8, 7.15), (11.95, 7.25)]
wt_edges = [(6.75, 8.9), (6.85, 9.05), (6.95, 8.7), (7.1, 9.2), (7.15, 8.85), (7.3, 9.3), (7.4, 8.95), (7.35, 8.55), (7.55, 9.4), (7.6, 9.05),
            (7.7, 8.75), (7.5, 8.4), (7.8, 9.25), (7.9, 8.85), (7.75, 8.3), (8.0, 8.4), (8.05, 8.2), (8.1, 8.85), (7.8, 8.55), (8.0, 8.55),
            (8.8, -8.4), (8.9, -8.15), (9.05, -8.2), (9.2, -7.75), (9.35, -7.8), (9.5, -8.2), (9.3, -8.3), (9.1, -8.4), (9.25, -8.05), (5.95, -8.9), (6.15, -9.15),
            (6.25, -9.45), (6.5, -9.65), (6.65, -9.55), (6.7, -9.3), (6.65, -8.85), (6.4, -8.95), (6.45, -9.25), (16.75, 0.2), (16.95, 0.0),
            (17.0, -0.25), (17.2, -0.6), (17.35, -0.4), (17.5, -0.2), (17.6, 0.0), (17.75, -0.35), (17.45, -0.5), (17.3, -0.1)]

# cells with expression, only these differ from grey
gh1_mut_high = [(1.05, 4.35), (10.85, 6.8), (13.0, 10.45), (12.3, -6.0), (4.2, -0.6), (5.65, -0.2), (5.7, 3.3), (8.05, -2.45), (8.15, -3.0), (9.15, -3.3)]
gh1_mut_mid = [(3.6, 2.2), (12.6, -5.15), (3.0, -0.45), (1.95, -1.0)]
wtap_mut_high = [(0.0, 5.3), (11.6, 6.45), (13.0, 3.15), (13.35, 4.2), (8.1, 2.65), (8.9, 2.45), (7.6, 1.85), (6.75, 2.0), (7.0, 1.25), (6.9, 0.7),
                 (8.15, 1.05), (8.3, 0.4), (7.5, 2.3), (7.4, 1.85), (0.95, 3.15), (1.15, 2.55), (-9.8, -3.0), (-8.9, 1.85), (-9.4, 2.5), (2.05, -1.35),
                 (8.15, -2.2), (9.75, -5.05), (12.7, -4.1), (11.55, -6.15)]
wtap_mut_mid = [(-0.85, 3.5), (-0.7, 4.0), (-0.6, 4.7), (-0.25, 5.35), (2.5, 6.15), (4.0, 0.45), (4.95, -0.1), (4.85, 0.8), (3.05, -0.15), (1.6, -0.95),
                (1.35, -1.25), (5.5, -3.3), (6.2, -3.1), (11.7, 7.2), (12.4, 7.85), (12.75, 7.4), (12.0, 6.55), (12.55, 6.4), (13.0, 5.85), (13.0, 5.3),
                (12.75, 3.9), (14.15, 8.1), (14.55, 7.9), (17.35, -0.6), (8.75, -3.8), (13.0, -2.7), (12.85, -5.9), (6.2, -9.1), (3.8, 0.95), (-7.7, 1.55),
                (6.4, 1.2), (2.55, -2.15), (11.95, -6.55)]
wtap_wt_high = [(7.45, 1.7), (-8.15, 2.2), (1.85, 5.4), (4.5, 0.3), (9.2, -4.25), (11.55, -4.9), (12.45, -4.7), (12.65, -4.35), (12.85, -6.0)]
wtap_wt_mid = [(-0.65, 4.5), (-9.55, 2.4), (-8.5, 1.75), (-9.85, 2.75), (13.0, 5.7), (13.2, 4.9), (13.45, 4.85), (17.4, -0.55), (3.35, 0.15), (-0.45, 3.15), (0.5, 2.2)]

mutant_cells = (mut_far + mut_left + mut_low_left + mut_ring + mut_ring_fill + mut_chain + mut_blob + mut_blob_fill + mut_wing
                + mut_stem + mut_lower + mut_lower_fill + mut_lower_ext + mut_top_right + mut_arc + mut_edges)
wildtype_cells = (wt_far + wt_left + wt_low_left + wt_ring + wt_chain + wt_wing + wt_blob + wt_stem
                  + wt_lower + wt_top_right + wt_edges)

level_colors = {'none': '#BEBEBE', 'mid': '#EE8069', 'high': '#FF3322'}


def make_frame(cells, level, mid=(), high=()):
    rows = [(x, y, level) for x, y in cells]
    rows += [(x, y, 'mid') for x, y in mid]
    rows += [(x, y, 'high') for x, y in high]
    return pd.DataFrame(rows, columns=['UMAP_1', 'UMAP_2', 'level'])


def draw_panel(ax, df, dot):
    sns.scatterplot(data=df, x='UMAP_1', y='UMAP_2', hue='level', palette=level_colors,
                    s=dot, linewidth=0, legend=False, ax=ax, clip_on=False)
    ax.set_xlim(-17.7, 19.9)
    ax.set_ylim(-10.62, 11.58)
    ax.set_xticks([-10, 0, 10])
    ax.set_yticks([-10, -5, 0, 5, 10])
    ax.tick_params(labelsize=22, width=1.5, length=6, color='black', labelcolor='black', pad=6)
    ax.set_xlabel('UMAP_1', fontsize=27, labelpad=13)
    ax.set_ylabel('UMAP_2', fontsize=27, labelpad=11)
    for side in ['left', 'bottom']:
        ax.spines[side].set_linewidth(1.6)
        ax.spines[side].set_color('black')
    sns.despine(ax=ax)


sns.set_style('ticks')
plt.rcParams['font.family'] = ['Liberation Sans', 'DejaVu Sans']
plt.rcParams['text.color'] = 'black'
plt.rcParams['axes.labelcolor'] = 'black'
plt.rcParams['axes.unicode_minus'] = False

fig, axes = plt.subplots(nrows=2, ncols=2, figsize=(22.37, 13.05), dpi=100)
fig.subplots_adjust(left=126 / 2237, right=2179 / 2237, top=1 - 65 / 1305, bottom=1 - 1193 / 1305, wspace=0.235, hspace=0.408)

draw_panel(axes[0, 0], make_frame(mutant_cells, 'none', gh1_mut_mid, gh1_mut_high), 34)
draw_panel(axes[0, 1], make_frame(wildtype_cells, 'mid'), 54)
draw_panel(axes[1, 0], make_frame(mutant_cells, 'none', wtap_mut_mid, wtap_mut_high), 34)
draw_panel(axes[1, 1], make_frame(wildtype_cells, 'none', wtap_wt_mid, wtap_wt_high), 54)

axes[0, 0].set_title('Mutant', fontsize=27, fontweight='bold', pad=16, color='black')
axes[0, 1].set_title('Wildtype', fontsize=27, fontweight='bold', pad=16, color='black')
fig.text(2199 / 2237, 1 - 298 / 1305, 'gh1', rotation=270, fontsize=27, fontweight='bold', ha='center', va='center')
fig.text(2199 / 2237, 1 - 960 / 1305, 'wtap', rotation=270, fontsize=27, fontweight='bold', ha='center', va='center')

plt.savefig('out.png', dpi=100)
plt.close()
